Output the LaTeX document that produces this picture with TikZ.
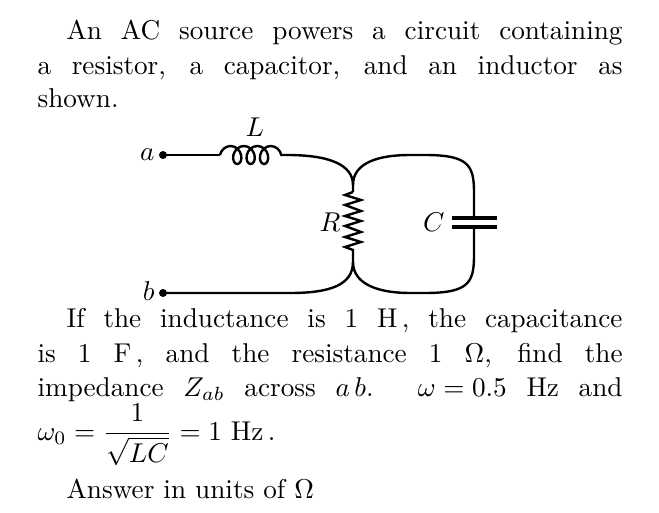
\documentclass[tikz,border=0pt]{standalone}
\usetikzlibrary{decorations.pathmorphing}
\begin{document}
\begin{tikzpicture}[x=1pt,y=-1pt,
  txt/.style={anchor=base west,inner sep=0pt,scale=2.72,transform shape},
  wire/.style={line width=2.4pt},
  lbl/.style={inner sep=0pt,scale=2.72,transform shape}]
\useasboundingbox (0,0) rectangle (659,513);
\node[txt] (t1) at (66,40) {\makebox[204.4pt][s]{An AC source powers a circuit containing}};
\node[txt] (t2) at (37,75) {\makebox[215.1pt][s]{a resistor, a capacitor, and an inductor as}};
\node[txt] (t3) at (37,108) {shown.};
\node[txt] (t4) at (66,327) {\makebox[204.4pt][s]{If the inductance is 1 H\,, the capacitance}};
\node[txt] (t5) at (37,362) {\makebox[215.1pt][s]{is 1 F\,, and the resistance 1 \mbox{$\Omega$}, find the}};
\node[txt] (t6) at (37,396) {\makebox[215.1pt][s]{impedance \mbox{$Z_{ab}$} across \mbox{$a\,b$}. \mbox{$\omega = 0.5$} Hz and}};
\node[txt] (t7) at (37,440) {$\omega_0 = {\displaystyle\frac{1}{\sqrt{LC}}} = 1$ Hz\,.};
\node[txt] (t8) at (66,498) {Answer in units of $\Omega$};
% circuit
\coordinate (a) at (163,155);
\coordinate (b) at (163,293);
\coordinate (l1) at (220,155);
\coordinate (l2) at (287,155);
\coordinate (rt) at (353,185);
\coordinate (rb) at (353,262);
\coordinate (r1) at (353,192);
\coordinate (r2) at (353,250);
\fill (a) circle (4);
\fill (b) circle (4);
\node[lbl,anchor=east] (la) at (155,155) {$a$};
\node[lbl,anchor=east] (lb) at (155,291) {$b$};
\node[lbl] (lL) at (255,127) {$L$};
\node[lbl,anchor=east] (lR) at (341,222) {$R$};
\node[lbl,anchor=east] (lC) at (445,222) {$C$};
\draw[wire] (a) -- (l1);
\draw[wire,decorate,decoration={coil,aspect=0.8,segment length=13.4,amplitude=9}] (l1) -- (l2);
\draw[wire] (l2) .. controls (330,155) and (353,165) .. (rt) -- (r1);
\draw[wire] (r1) -- (345,195) -- (361,200) -- (345,205) -- (361,211) -- (345,216) -- (361,221) -- (345,226) -- (361,232) -- (345,237) -- (361,242) -- (345,247) -- (r2) -- (rb);
\draw[wire] (rb) .. controls (353,285) and (330,293) .. (290,293) -- (b);
\draw[wire] (rt) .. controls (353,162) and (380,155) .. (410,155) -- (425,155) .. controls (468,155) and (474,165) .. (474,192) -- (474,218);
\draw[wire] (rb) .. controls (353,285) and (380,293) .. (410,293) -- (425,293) .. controls (468,293) and (474,283) .. (474,256) -- (474,227);
\draw[line width=4pt] (452,218) -- (497,218) (452,227) -- (497,227);
\end{tikzpicture}
\end{document}
